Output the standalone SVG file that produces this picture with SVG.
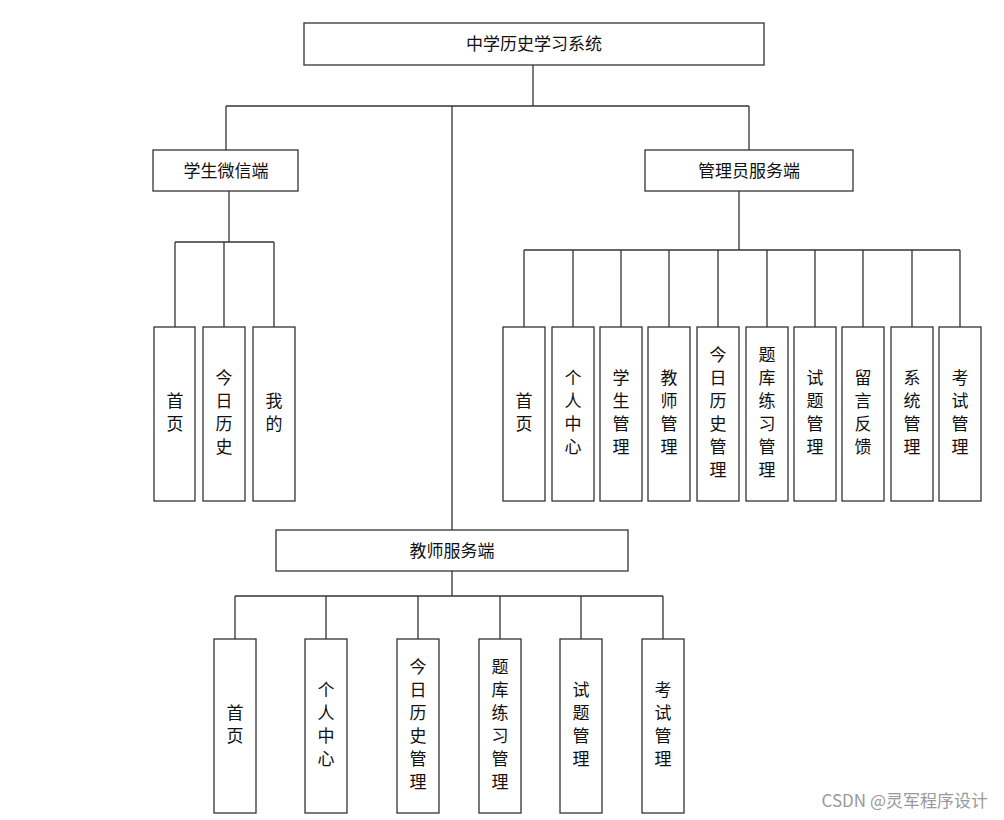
<svg xmlns="http://www.w3.org/2000/svg" width="1004" height="820" viewBox="0 0 1004 820">
<style>
rect{fill:#fff;stroke:#333;stroke-width:1.3}
line{stroke:#333;stroke-width:1.3}
text{font-family:"Noto Sans CJK SC","Noto Sans",sans-serif;font-size:17px;fill:#111;text-anchor:middle}
</style>
<rect x="0" y="0" width="1004" height="820" style="stroke:none;fill:#fff"/>
<g id="connectors">
<line x1="533" y1="65" x2="533" y2="106"/>
<line x1="226" y1="106" x2="749" y2="106"/>
<line x1="226" y1="106" x2="226" y2="150"/>
<line x1="749" y1="106" x2="749" y2="150"/>
<line x1="452" y1="106" x2="452" y2="530"/>
<line x1="229" y1="191" x2="229" y2="242"/>
<line x1="175" y1="242" x2="274" y2="242"/>
<line x1="175" y1="242" x2="175" y2="327"/>
<line x1="224" y1="242" x2="224" y2="327"/>
<line x1="274" y1="242" x2="274" y2="327"/>
<line x1="739" y1="191" x2="739" y2="250"/>
<line x1="524" y1="250" x2="960" y2="250"/>
<line x1="524" y1="250" x2="524" y2="327"/>
<line x1="573" y1="250" x2="573" y2="327"/>
<line x1="621" y1="250" x2="621" y2="327"/>
<line x1="669" y1="250" x2="669" y2="327"/>
<line x1="718" y1="250" x2="718" y2="327"/>
<line x1="767" y1="250" x2="767" y2="327"/>
<line x1="815" y1="250" x2="815" y2="327"/>
<line x1="863" y1="250" x2="863" y2="327"/>
<line x1="912" y1="250" x2="912" y2="327"/>
<line x1="960" y1="250" x2="960" y2="327"/>
<line x1="452" y1="571" x2="452" y2="596"/>
<line x1="235" y1="596" x2="663" y2="596"/>
<line x1="235" y1="596" x2="235" y2="639"/>
<line x1="326" y1="596" x2="326" y2="639"/>
<line x1="418" y1="596" x2="418" y2="639"/>
<line x1="500" y1="596" x2="500" y2="639"/>
<line x1="581" y1="596" x2="581" y2="639"/>
<line x1="663" y1="596" x2="663" y2="639"/>
</g>
<g id="root"><rect x="304" y="23" width="460" height="42"/><text x="534" y="50">中学历史学习系统</text></g>
<g id="student"><rect x="153" y="150" width="145" height="41"/><text x="226" y="177">学生微信端</text></g>
<g id="admin"><rect x="645" y="150" width="208" height="41"/><text x="749" y="177">管理员服务端</text></g>
<g id="teacher"><rect x="276" y="530" width="352" height="41"/><text x="452" y="557">教师服务端</text></g>

<g id="s1"><rect x="154" y="327" width="41" height="174"/><text x="175" y="407">首<tspan x="175" dy="23">页</tspan></text></g>
<g id="s2"><rect x="203" y="327" width="42" height="174"/><text x="224" y="384">今<tspan x="224" dy="23">日</tspan><tspan x="224" dy="23">历</tspan><tspan x="224" dy="23">史</tspan></text></g>
<g id="s3"><rect x="253" y="327" width="42" height="174"/><text x="274" y="407">我<tspan x="274" dy="23">的</tspan></text></g>

<g id="a1"><rect x="503" y="327" width="42" height="174"/><text x="524" y="407">首<tspan x="524" dy="23">页</tspan></text></g>
<g id="a2"><rect x="552" y="327" width="42" height="174"/><text x="573" y="384">个<tspan x="573" dy="23">人</tspan><tspan x="573" dy="23">中</tspan><tspan x="573" dy="23">心</tspan></text></g>
<g id="a3"><rect x="600" y="327" width="42" height="174"/><text x="621" y="384">学<tspan x="621" dy="23">生</tspan><tspan x="621" dy="23">管</tspan><tspan x="621" dy="23">理</tspan></text></g>
<g id="a4"><rect x="648" y="327" width="42" height="174"/><text x="669" y="384">教<tspan x="669" dy="23">师</tspan><tspan x="669" dy="23">管</tspan><tspan x="669" dy="23">理</tspan></text></g>
<g id="a5"><rect x="697" y="327" width="42" height="174"/><text x="718" y="361">今<tspan x="718" dy="23">日</tspan><tspan x="718" dy="23">历</tspan><tspan x="718" dy="23">史</tspan><tspan x="718" dy="23">管</tspan><tspan x="718" dy="23">理</tspan></text></g>
<g id="a6"><rect x="746" y="327" width="42" height="174"/><text x="767" y="361">题<tspan x="767" dy="23">库</tspan><tspan x="767" dy="23">练</tspan><tspan x="767" dy="23">习</tspan><tspan x="767" dy="23">管</tspan><tspan x="767" dy="23">理</tspan></text></g>
<g id="a7"><rect x="794" y="327" width="42" height="174"/><text x="815" y="384">试<tspan x="815" dy="23">题</tspan><tspan x="815" dy="23">管</tspan><tspan x="815" dy="23">理</tspan></text></g>
<g id="a8"><rect x="842" y="327" width="42" height="174"/><text x="863" y="384">留<tspan x="863" dy="23">言</tspan><tspan x="863" dy="23">反</tspan><tspan x="863" dy="23">馈</tspan></text></g>
<g id="a9"><rect x="891" y="327" width="42" height="174"/><text x="912" y="384">系<tspan x="912" dy="23">统</tspan><tspan x="912" dy="23">管</tspan><tspan x="912" dy="23">理</tspan></text></g>
<g id="a10"><rect x="939" y="327" width="42" height="174"/><text x="960" y="384">考<tspan x="960" dy="23">试</tspan><tspan x="960" dy="23">管</tspan><tspan x="960" dy="23">理</tspan></text></g>

<g id="t1"><rect x="214" y="639" width="42" height="174"/><text x="235" y="719">首<tspan x="235" dy="23">页</tspan></text></g>
<g id="t2"><rect x="305" y="639" width="42" height="174"/><text x="326" y="696">个<tspan x="326" dy="23">人</tspan><tspan x="326" dy="23">中</tspan><tspan x="326" dy="23">心</tspan></text></g>
<g id="t3"><rect x="397" y="639" width="42" height="174"/><text x="418" y="673">今<tspan x="418" dy="23">日</tspan><tspan x="418" dy="23">历</tspan><tspan x="418" dy="23">史</tspan><tspan x="418" dy="23">管</tspan><tspan x="418" dy="23">理</tspan></text></g>
<g id="t4"><rect x="479" y="639" width="42" height="174"/><text x="500" y="673">题<tspan x="500" dy="23">库</tspan><tspan x="500" dy="23">练</tspan><tspan x="500" dy="23">习</tspan><tspan x="500" dy="23">管</tspan><tspan x="500" dy="23">理</tspan></text></g>
<g id="t5"><rect x="560" y="639" width="42" height="174"/><text x="581" y="696">试<tspan x="581" dy="23">题</tspan><tspan x="581" dy="23">管</tspan><tspan x="581" dy="23">理</tspan></text></g>
<g id="t6"><rect x="642" y="639" width="42" height="174"/><text x="663" y="696">考<tspan x="663" dy="23">试</tspan><tspan x="663" dy="23">管</tspan><tspan x="663" dy="23">理</tspan></text></g>

<text x="988" y="807" style="font-size:17px;fill:#999;text-anchor:end">CSDN @灵军程序设计</text>
</svg>
